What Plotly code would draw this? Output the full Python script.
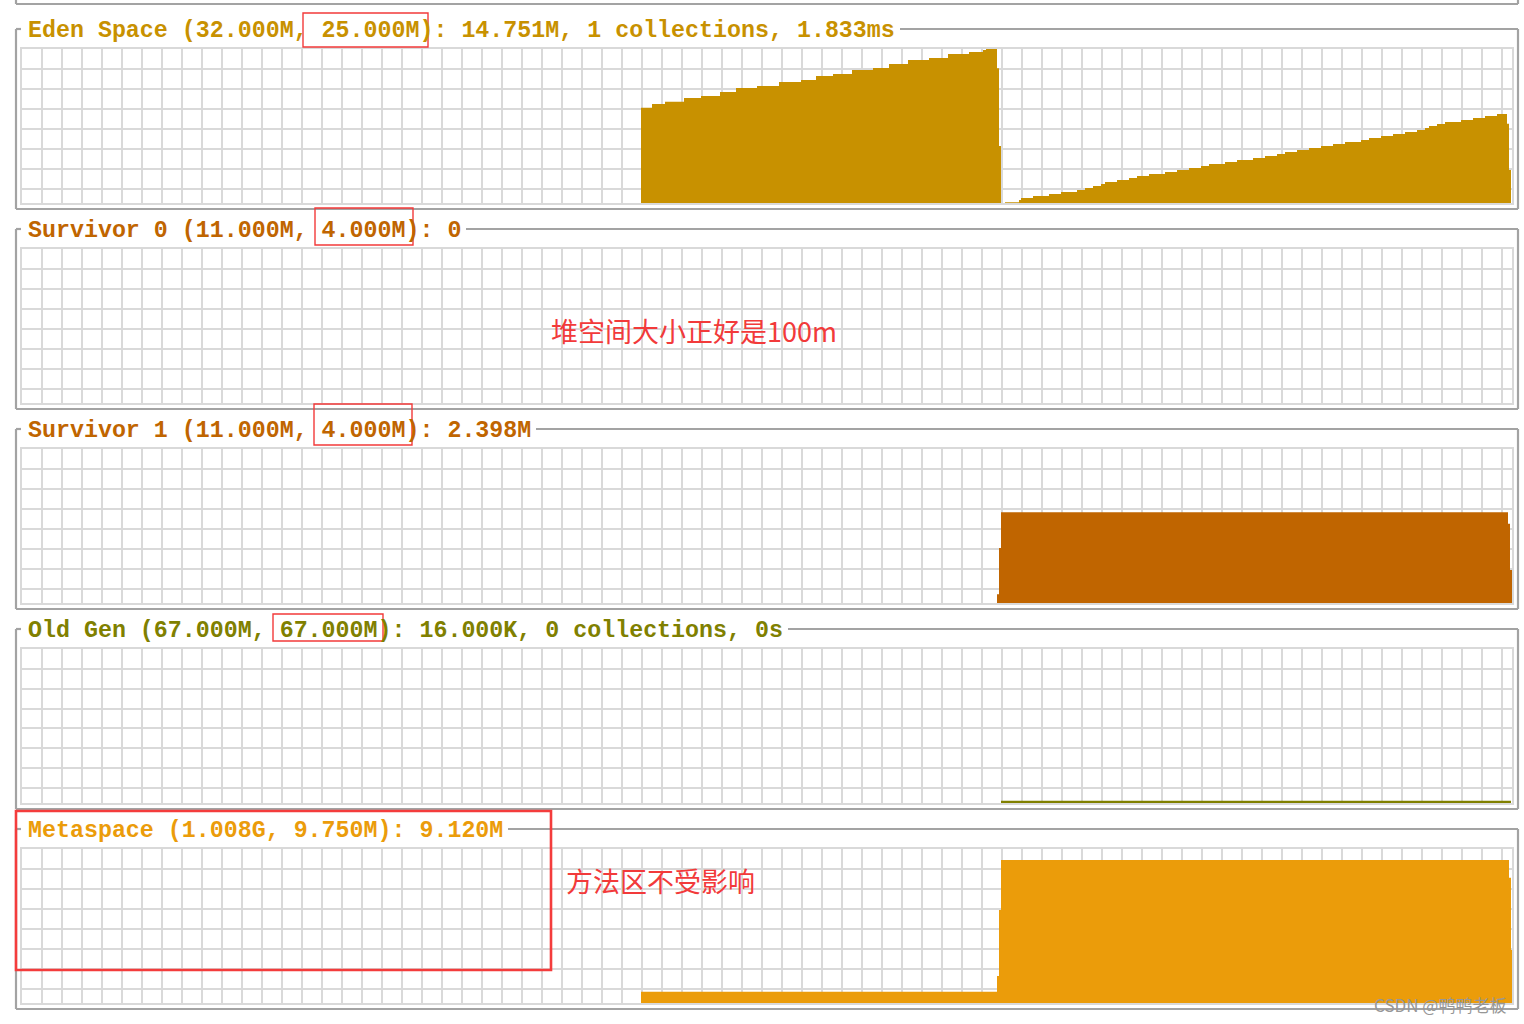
import plotly.graph_objects as go

W, H = 1524, 1024

eden_t = [619, 630, 643, 662, 679, 698, 714, 735, 757, 779,
          794, 811, 830, 851, 867, 886, 907, 926, 947, 961,
          964, 975, 977, 979,
          983, 997, 999, 1011, 1027, 1039, 1055, 1063, 1071, 1079,
          1083, 1095, 1107, 1115, 1127, 1143, 1155, 1167, 1179, 1187,
          1203, 1215, 1231, 1243, 1255, 1263, 1275, 1287, 1299, 1311,
          1323, 1339, 1347, 1359, 1371, 1383, 1395, 1403, 1407, 1415,
          1423, 1439, 1451, 1463, 1475, 1485, 1487, 1489]
eden_mb = [15.47, 16.07, 16.44, 17.05, 17.37, 18.02, 18.67, 19.00, 19.64, 19.97,
           20.62, 20.94, 21.59, 21.92, 22.56, 23.21, 23.54, 24.19, 24.51, 24.84,
           25.20, 21.87, 9.25, 0,
           0.11, 0.49, 0.81, 1.14, 1.46, 1.79, 2.11, 2.44, 2.76, 3.08,
           3.41, 3.73, 4.06, 4.38, 4.71, 5.03, 5.36, 5.68, 6.01, 6.33,
           6.66, 6.98, 7.31, 7.63, 7.95, 8.28, 8.60, 8.93, 9.25, 9.58,
           9.90, 10.23, 10.55, 10.88, 11.20, 11.53, 11.85, 12.18, 12.50, 12.82,
           13.15, 13.47, 13.80, 14.12, 14.45, 12.87, 5.36, 0]
s0_t = []
s0_mb = []
s1_t = [975, 977, 979, 1486, 1488, 1490]
s1_mb = [0.23, 1.43, 2.36, 2.06, 0.86, 0]
old_t = [979, 1489]
old_mb = [0.016, 0.016]
meta_t = [619, 975, 977, 979, 1487, 1489, 1491]
meta_mb = [0.71, 1.71, 5.89, 9.05, 7.93, 3.36, 0]

capacity_mb = [25.0, 4.0, 4.0, 67.0, 9.75]
titles = ["Eden Space (32.000M, 25.000M): 14.751M, 1 collections, 1.833ms",
          "Survivor 0 (11.000M, 4.000M): 0",
          "Survivor 1 (11.000M, 4.000M): 2.398M",
          "Old Gen (67.000M, 67.000M): 16.000K, 0 collections, 0s",
          "Metaspace (1.008G, 9.750M): 9.120M"]
colors = ["#C89100", "#C06500", "#C06500", "#808000", "#EB9C0A"]

GRID = "#D9D9D9"
FRAME = "#A3A3A3"
RED = "#F23A3A"


def px(x):
    return x / W


def py(y):
    return 1 - y / H


series = [(eden_t, eden_mb), (s0_t, s0_mb), (s1_t, s1_mb),
          (old_t, old_mb), (meta_t, meta_mb)]

fig = go.Figure()
shapes = []
annotations = []

for i, (t, mb) in enumerate(series):
    ax = "" if i == 0 else str(i + 1)
    top = 49 + 200 * i
    bottom = top + 154
    cap = capacity_mb[i]
    ymin = -0.45 if i == 3 else 0

    is_line = (i == 3)
    fig.add_trace(go.Scatter(
        x=t, y=mb, xaxis="x" + ax, yaxis="y" + ax,
        mode="lines",
        line=dict(shape="hv", width=2.2 if is_line else 0, color=colors[i]),
        fill="tozeroy", fillcolor=colors[i],
        hoverinfo="skip", showlegend=False))

    fig.layout["xaxis" + ax] = dict(
        domain=[px(22), px(1512)], range=[0, 1490], anchor="y" + ax,
        showgrid=True, gridcolor=GRID, gridwidth=1.7, tick0=0, dtick=20,
        showticklabels=False, ticks="", zeroline=False,
        showline=True, mirror=True, linecolor=GRID, linewidth=1.7,
        fixedrange=True)
    fig.layout["yaxis" + ax] = dict(
        domain=[py(bottom), py(top)], range=[ymin, cap], anchor="x" + ax,
        showgrid=True, gridcolor=GRID, gridwidth=1.7,
        tick0=cap, dtick=cap * 20 / 154,
        showticklabels=False, ticks="", zeroline=False,
        showline=True, mirror=True, linecolor=GRID, linewidth=1.7,
        fixedrange=True)

    # titled border around each pool
    ft = 29 + 200 * i
    fb = 209 + 200 * i
    title_end = 27 + len(titles[i]) * 14 + 5
    for (x0, y0, x1, y1) in [(16, ft, 16, fb), (1518, ft, 1518, fb),
                             (16, fb, 1518, fb), (16, ft, 21, ft),
                             (title_end, ft, 1518, ft)]:
        shapes.append(dict(type="line", xref="paper", yref="paper",
                           x0=px(x0), y0=py(y0), x1=px(x1), y1=py(y1),
                           line=dict(color=FRAME, width=2.2)))
    annotations.append(dict(
        x=px(26), y=py(31 + 200 * i), xref="paper", yref="paper",
        xanchor="left", yanchor="middle", showarrow=False,
        text="<b>" + titles[i] + "</b>",
        font=dict(family="Liberation Mono", size=23.3, color=colors[i])))

# bottom edge of the pool above (cut off at the top of the screenshot)
for (x0, y0, x1, y1) in [(16, 0, 16, 4), (1518, 0, 1518, 4), (16, 4, 1518, 4)]:
    shapes.append(dict(type="line", xref="paper", yref="paper",
                       x0=px(x0), y0=py(y0), x1=px(x1), y1=py(y1),
                       line=dict(color=FRAME, width=2.2)))

# red highlight boxes
for (x0, y0, x1, y1) in [(303, 13, 428, 47), (315, 208, 413, 245),
                         (314, 404, 412, 445), (273, 614, 383, 641)]:
    shapes.append(dict(type="rect", xref="paper", yref="paper",
                       x0=px(x0), y0=py(y0), x1=px(x1), y1=py(y1),
                       line=dict(color=RED, width=1.4)))
shapes.append(dict(type="rect", xref="paper", yref="paper",
                   x0=px(16), y0=py(811), x1=px(551), y1=py(970),
                   line=dict(color="#F43C3C", width=2.6)))

annotations.append(dict(x=px(549), y=py(330), xref="paper", yref="paper",
                        xanchor="left", yanchor="middle", showarrow=False,
                        text="堆空间大小正好是100m",
                        font=dict(family="Noto Sans CJK SC", size=27, color=RED)))
annotations.append(dict(x=px(564), y=py(880), xref="paper", yref="paper",
                        xanchor="left", yanchor="middle", showarrow=False,
                        text="方法区不受影响",
                        font=dict(family="Noto Sans CJK SC", size=27, color=RED)))
annotations.append(dict(x=px(1508), y=py(1004), xref="paper", yref="paper",
                        xanchor="right", yanchor="middle", showarrow=False,
                        text="CSDN @鸭鸭老板",
                        font=dict(family="Noto Sans CJK SC", size=17, color="#979797")))

fig.update_layout(
    width=W, height=H,
    margin=dict(l=0, r=0, t=0, b=0),
    paper_bgcolor="white", plot_bgcolor="white",
    shapes=shapes, annotations=annotations,
    showlegend=False)

fig.write_html("out.html", config={"displayModeBar": False},
               post_script="document.body.style.margin = '0';")
